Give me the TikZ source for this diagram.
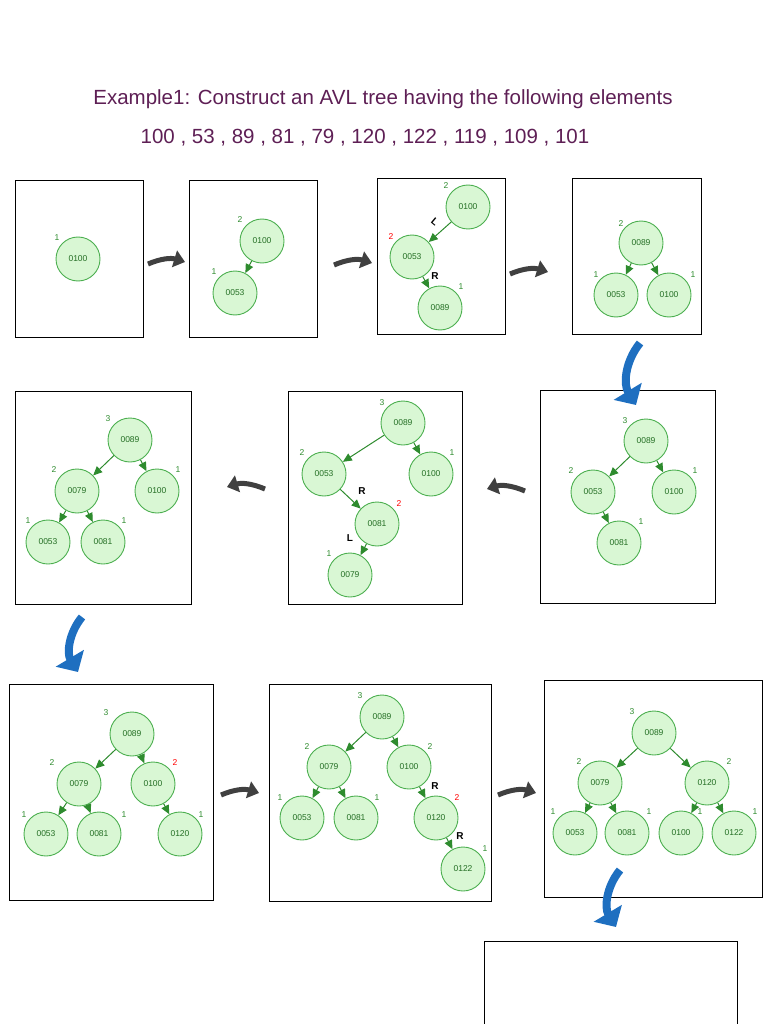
\documentclass[tikz,border=0pt]{standalone}
\usepackage{fontspec}
\setmainfont{Liberation Sans}
\usetikzlibrary{arrows.meta}
\definecolor{ttl}{HTML}{5E1F55}
\definecolor{nfill}{HTML}{D9F7D4}
\definecolor{ndraw}{HTML}{4CAF50}
\definecolor{edg}{HTML}{2E8B2E}
\definecolor{blu}{HTML}{1E6FC0}
\tikzset{
 x=1pt,y=-1pt,
 tn/.style={circle,draw=ndraw,fill=nfill,line width=0.9pt,minimum size=44pt,inner sep=0pt,text=edg!80!black,font=\fontsize{8.5}{8.5}\selectfont},
 bal/.style={text=edg,font=\fontsize{8.5}{8.5}\selectfont},
 redbal/.style={text=red,font=\fontsize{8.5}{8.5}\selectfont},
 panel/.style={draw=black,line width=0.8pt},
 ed/.style={draw=edg,line width=1pt,-{Triangle[length=9pt,width=8pt]}},
 rl/.style={font=\bfseries\fontsize{10}{10}\selectfont},
 grayarr/.style={draw=black!75,line width=5pt,-{Triangle[length=11pt,width=17pt]}},
 bluearr/.style={draw=blu,line width=8pt,-{Triangle[length=16pt,width=32pt]}},
}
\begin{document}
\begin{tikzpicture}
\useasboundingbox (0,0) rectangle (768,1024);
\node[text=ttl,font=\fontsize{20.5}{20.5}\selectfont] (t1) at (383,99) {Example1: Construct an AVL tree having the following elements};
\node[text=ttl,font=\fontsize{20.5}{20.5}\selectfont] (t2) at (365,138) {100 , 53 , 89 , 81 , 79 , 120 , 122 , 119 , 109 , 101};
% panels
\draw[panel] (15,180) rectangle (143,337);
\draw[panel] (189,180) rectangle (317,337);
\draw[panel] (377,178) rectangle (505,334);
\draw[panel] (572,178) rectangle (701,334);
\draw[panel] (540,390) rectangle (715,603);
\draw[panel] (288,391) rectangle (462,604);
\draw[panel] (15,391) rectangle (191,604);
\draw[panel] (9,684) rectangle (213,900);
\draw[panel] (269,684) rectangle (491,901);
\draw[panel] (544,680) rectangle (762,897);
\draw[panel] (484,941) -- (484,1030) (484,941) -- (737,941) -- (737,1030);
% P1
\node[tn] (a1) at (78,259) {0100}; \node[bal] at (57,238) {1};
% P2
\node[tn] (b1) at (262,241) {0100}; \node[bal] at (240,220) {2};
\node[tn] (b2) at (235,293) {0053}; \node[bal] at (214,272) {1};
\draw[ed] (b1) -- (b2);
% P3
\node[tn] (c1) at (468,207) {0100}; \node[bal] at (446,186) {2};
\node[tn] (c2) at (412,257) {0053}; \node[redbal] at (391,237) {2};
\node[tn] (c3) at (440,308) {0089}; \node[bal] at (461,287) {1};
\draw[ed] (c1) -- (c2); \draw[ed] (c2) -- (c3);
\node[rl,rotate=-40] at (435,222) {L}; \node[rl] at (435,276) {R};
% P4
\node[tn] (d1) at (641,243) {0089}; \node[bal] at (621,224) {2};
\node[tn] (d2) at (616,295) {0053}; \node[bal] at (596,275) {1};
\node[tn] (d3) at (669,295) {0100}; \node[bal] at (693,275) {1};
\draw[ed] (d1) -- (d2); \draw[ed] (d1) -- (d3);
% P5
\node[tn] (e1) at (646,441) {0089}; \node[bal] at (625,421) {3};
\node[tn] (e2) at (593,492) {0053}; \node[bal] at (571,471) {2};
\node[tn] (e3) at (674,492) {0100}; \node[bal] at (695,471) {1};
\node[tn] (e4) at (619,543) {0081}; \node[bal] at (641,522) {1};
\draw[ed] (e1) -- (e2); \draw[ed] (e1) -- (e3); \draw[ed] (e2) -- (e4);
% P6
\node[tn] (f1) at (403,423) {0089}; \node[bal] at (382,403) {3};
\node[tn] (f2) at (324,474) {0053}; \node[bal] at (302,453) {2};
\node[tn] (f3) at (431,474) {0100}; \node[bal] at (452,453) {1};
\node[tn] (f4) at (377,524) {0081}; \node[redbal] at (399,504) {2};
\node[tn] (f5) at (350,575) {0079}; \node[bal] at (329,554) {1};
\draw[ed] (f1) -- (f2); \draw[ed] (f1) -- (f3); \draw[ed] (f2) -- (f4); \draw[ed] (f4) -- (f5);
\node[rl] at (362,491) {R}; \node[rl] at (350,538) {L};
% P7
\node[tn] (g1) at (130,440) {0089}; \node[bal] at (108,419) {3};
\node[tn] (g2) at (77,491) {0079}; \node[bal] at (54,470) {2};
\node[tn] (g3) at (157,491) {0100}; \node[bal] at (178,470) {1};
\node[tn] (g4) at (48,542) {0053}; \node[bal] at (28,521) {1};
\node[tn] (g5) at (103,542) {0081}; \node[bal] at (124,521) {1};
\draw[ed] (g1) -- (g2); \draw[ed] (g1) -- (g3); \draw[ed] (g2) -- (g4); \draw[ed] (g2) -- (g5);
% P8
\node[tn] (h1) at (132,734) {0089}; \node[bal] at (106,713) {3};
\node[tn] (h2) at (79,784) {0079}; \node[bal] at (52,763) {2};
\node[tn] (h3) at (153,784) {0100}; \node[redbal] at (175,763) {2};
\node[tn] (h4) at (46,834) {0053}; \node[bal] at (24,815) {1};
\node[tn] (h5) at (99,834) {0081}; \node[bal] at (124,815) {1};
\node[tn] (h6) at (180,834) {0120}; \node[bal] at (201,815) {1};
\draw[ed] (h1) -- (h2); \draw[ed] (h1) -- (h3); \draw[ed] (h2) -- (h4); \draw[ed] (h2) -- (h5); \draw[ed] (h3) -- (h6);
% P9
\node[tn] (i1) at (382,717) {0089}; \node[bal] at (360,696) {3};
\node[tn] (i2) at (329,767) {0079}; \node[bal] at (307,747) {2};
\node[tn] (i3) at (409,767) {0100}; \node[bal] at (430,747) {2};
\node[tn] (i4) at (302,818) {0053}; \node[bal] at (280,798) {1};
\node[tn] (i5) at (356,818) {0081}; \node[bal] at (377,798) {1};
\node[tn] (i6) at (436,818) {0120}; \node[redbal] at (457,798) {2};
\node[tn] (i7) at (463,869) {0122}; \node[bal] at (485,849) {1};
\draw[ed] (i1) -- (i2); \draw[ed] (i1) -- (i3); \draw[ed] (i2) -- (i4); \draw[ed] (i2) -- (i5); \draw[ed] (i3) -- (i6); \draw[ed] (i6) -- (i7);
\node[rl] at (435,786) {R}; \node[rl] at (460,836) {R};
% P10
\node[tn] (j1) at (654,733) {0089}; \node[bal] at (632,712) {3};
\node[tn] (j2) at (600,783) {0079}; \node[bal] at (579,762) {2};
\node[tn] (j3) at (707,783) {0120}; \node[bal] at (729,762) {2};
\node[tn] (j4) at (575,833) {0053}; \node[bal] at (553,812) {1};
\node[tn] (j5) at (627,833) {0081}; \node[bal] at (649,812) {1};
\node[tn] (j6) at (681,833) {0100}; \node[bal] at (700,812) {1};
\node[tn] (j7) at (734,833) {0122}; \node[bal] at (755,812) {1};
\draw[ed] (j1) -- (j2); \draw[ed] (j1) -- (j3); \draw[ed] (j2) -- (j4); \draw[ed] (j2) -- (j5); \draw[ed] (j3) -- (j6); \draw[ed] (j3) -- (j7);
% transition arrows
\coordinate (ga1) at (148,264); \coordinate (gb1) at (185,262);
\draw[grayarr] (ga1) to[bend left=20] (gb1);
\coordinate (ga2) at (334,265); \coordinate (gb2) at (372,263);
\draw[grayarr] (ga2) to[bend left=20] (gb2);
\coordinate (ga3) at (510,274); \coordinate (gb3) at (548,272);
\draw[grayarr] (ga3) to[bend left=20] (gb3);
\coordinate (ga4) at (525,491); \coordinate (gb4) at (487,489);
\draw[grayarr] (ga4) to[bend right=20] (gb4);
\coordinate (ga5) at (265,489); \coordinate (gb5) at (227,487);
\draw[grayarr] (ga5) to[bend right=20] (gb5);
\coordinate (ga6) at (221,795); \coordinate (gb6) at (259,793);
\draw[grayarr] (ga6) to[bend left=20] (gb6);
\coordinate (ga7) at (498,795); \coordinate (gb7) at (536,793);
\draw[grayarr] (ga7) to[bend left=20] (gb7);
\coordinate (ba1) at (640,343); \coordinate (bb1) at (636,405);
\draw[bluearr] (ba1) to[bend right=35] (bb1);
\coordinate (ba2) at (82,617); \coordinate (bb2) at (78,672);
\draw[bluearr] (ba2) to[bend right=35] (bb2);
\coordinate (ba3) at (620,870); \coordinate (bb3) at (616,927);
\draw[bluearr] (ba3) to[bend right=35] (bb3);
\end{tikzpicture}
\end{document}
